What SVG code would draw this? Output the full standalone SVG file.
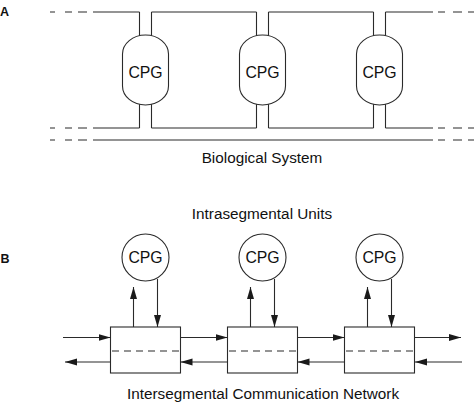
<svg xmlns="http://www.w3.org/2000/svg" width="474" height="404" viewBox="0 0 474 404">
<style>
.ln{fill:none;stroke:#2a2a2a;stroke-width:1.1}
.nd{fill:#fff;stroke:#2a2a2a;stroke-width:1.1}
.t{font-family:"Liberation Sans",Arial,sans-serif;font-size:15.3px;fill:#111;text-anchor:middle}
.c{font-size:15.8px}
.lab{font-family:"Liberation Sans",Arial,sans-serif;font-size:12.5px;font-weight:bold;fill:#111}
.dash{stroke-dasharray:7 5}
</style>
<defs>
<marker id="ah" markerUnits="userSpaceOnUse" markerWidth="13" markerHeight="8" refX="12" refY="3.5" orient="auto">
<path d="M0,0 L12,3.5 L0,7 z" fill="#1a1a1a"/>
</marker>
</defs>
<rect width="474" height="404" fill="#fff"/>
<text class="lab" x="0" y="15.5">A</text>
<text class="lab" x="0.5" y="262.5">B</text>
<g id="connectors-A">
<path class="ln" d="M93,12 H139.5 M151.5,12 H256.5 M268.5,12 H373.5 M385.5,12 H433"/>
<path class="ln" d="M93,128 H139.5 M151.5,128 H256.5 M268.5,128 H373.5 M385.5,128 H433"/>
<path class="ln" d="M93,140 H433"/>
<path class="ln" d="M50,12 h5 M65,12 h7 M78,12 h9 M438,12 h7 M453,12 h9 M468,12 h6"/>
<path class="ln" d="M50,128 h5 M65,128 h7 M78,128 h9 M438,128 h7 M453,128 h9 M468,128 h6"/>
<path class="ln" d="M50,140 h5 M65,140 h7 M78,140 h9 M438,140 h7 M453,140 h9 M468,140 h6"/>
<path class="ln" d="M139.5,12 V36 M151.5,12 V36 M139.5,104 V128 M151.5,104 V128"/>
<path class="ln" d="M256.5,12 V36 M268.5,12 V36 M256.5,104 V128 M268.5,104 V128"/>
<path class="ln" d="M373.5,12 V36 M385.5,12 V36 M373.5,104 V128 M385.5,104 V128"/>
</g>
<g id="cpgA1"><rect class="nd" x="122.5" y="35" width="46" height="70" rx="23" ry="19"/><text class="t c" x="145.5" y="78">CPG</text></g>
<g id="cpgA2"><rect class="nd" x="239.5" y="35" width="46" height="70" rx="23" ry="19"/><text class="t c" x="262.5" y="78">CPG</text></g>
<g id="cpgA3"><rect class="nd" x="356.5" y="35" width="46" height="70" rx="23" ry="19"/><text class="t c" x="379.5" y="78">CPG</text></g>
<text class="t" x="262" y="163">Biological System</text>
<text class="t" x="262" y="219">Intrasegmental Units</text>
<g id="cpgB1"><circle class="nd" cx="145.5" cy="257.5" r="23.5"/><text class="t c" x="145.5" y="263">CPG</text></g>
<g id="cpgB2"><circle class="nd" cx="262.5" cy="257.5" r="23.5"/><text class="t c" x="262.5" y="263">CPG</text></g>
<g id="cpgB3"><circle class="nd" cx="379.5" cy="257.5" r="23.5"/><text class="t c" x="379.5" y="263">CPG</text></g>
<g id="box1"><rect class="nd" x="110.5" y="327" width="70" height="46"/><path class="ln dash" d="M112,351 H179"/></g>
<g id="box2"><rect class="nd" x="227.5" y="327" width="70" height="46"/><path class="ln dash" d="M229,351 H296"/></g>
<g id="box3"><rect class="nd" x="344.5" y="327" width="70" height="46"/><path class="ln dash" d="M346,351 H413"/></g>
<g id="connectors-B" class="ln" marker-end="url(#ah)">
<path d="M133.5,327 V287"/><path d="M157.5,279 V327"/>
<path d="M250.5,327 V287"/><path d="M274.5,279 V327"/>
<path d="M367.5,327 V287"/><path d="M391.5,279 V327"/>
<path d="M63,337.5 H110.5"/><path d="M110.5,362 H65"/>
<path d="M180.5,337.5 H227.5"/><path d="M227.5,362 H180.5"/>
<path d="M297.5,337.5 H344.5"/><path d="M344.5,362 H297.5"/>
<path d="M414.5,337.5 H461"/><path d="M462,362 H415"/>
</g>
<text class="t" x="263" y="399">Intersegmental Communication Network</text>
</svg>
